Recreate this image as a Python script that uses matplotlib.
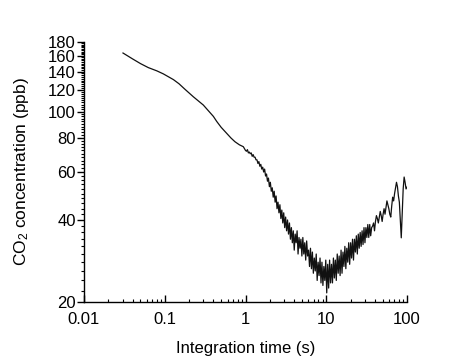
import numpy as np
import matplotlib
matplotlib.use("Agg")
import matplotlib.pyplot as plt
from matplotlib.ticker import FixedLocator, MultipleLocator, NullFormatter, LogLocator, FixedFormatter, FuncFormatter

# --- data -------------------------------------------------------------
# smooth part (short integration times)
tau_a = [0.0304, 0.04, 0.05, 0.0625, 0.08, 0.096, 0.128, 0.15, 0.178, 0.226,
         0.30, 0.40, 0.44, 0.50, 0.585, 0.66, 0.74, 0.84, 0.94]
conc_a = [164, 156, 150, 145, 141, 137.5, 131, 126.5, 120.7, 113.3,
          105.7, 96, 92, 87.5, 83.2, 80, 77.5, 75.5, 74.3]

# noisy part, 1 s .. 100 s (log-spaced samples)
conc_b = [
    72, 71.5, 72.5, 70.5, 71, 70, 70.5, 68.5, 69.5, 68,
    68, 66.5, 66.5, 64.5, 65.5, 63, 64, 61.5, 62.5, 60,
    61.5, 58, 59, 55.5, 57, 53, 55, 51, 52.5, 48.5,
    51, 46.5, 49, 44, 46.5, 42.5, 45.5, 40.5, 43.5, 39,
    42.5, 37.5, 41, 36.5, 40, 35.5, 39, 34, 37.5, 33,
    36.5, 31, 35.5, 33, 36.5, 30, 34.5, 31.5, 34, 29.5,
    34.5, 30, 33, 28.5, 33.5, 29.5, 31, 27, 31.5, 26.5,
    30.5, 25.5, 29, 26, 30, 24, 28, 25, 29, 23.5,
    28, 23, 27, 24, 28.5, 21.6, 27.5, 22.5, 28.5, 23.5,
    27.5, 23.5, 29, 24.5, 28.5, 24, 30, 25.5, 29.5, 25,
    31, 25.5, 30.5, 27, 32, 26.5, 31.5, 28, 33, 27.5,
    33, 29, 34, 28.5, 34, 30.5, 35, 30, 35.5, 31.5,
    36, 32, 36.5, 32.5, 37.5, 33, 37.5, 34.5, 38.5, 34.5,
    38.5, 35, 37.5, 38, 39, 36.5, 39.5, 41.5, 40.5, 39,
    41, 43, 41.5, 39.5, 42, 44, 42, 44.5, 47, 45.5,
    44, 42, 41, 45, 48.5, 47, 50, 52.5, 55, 53,
    49, 46.5, 40, 34.4, 42, 52, 57.5, 55, 52, 52.8,
]
tau_b = np.geomspace(1.0, 100.0, len(conc_b))

tau = np.concatenate([tau_a, tau_b])
conc = np.concatenate([conc_a, conc_b])

y_ticks = [20, 40, 60, 80, 100, 120, 140, 160, 180]
x_ticks = [0.01, 0.1, 1, 10, 100]
x_tick_labels = ["0.01", "0.1", "1", "10", "100"]

# --- figure -----------------------------------------------------------
plt.rcParams['font.family'] = ['Liberation Sans', 'DejaVu Sans']
plt.rcParams['mathtext.fontset'] = 'custom'
plt.rcParams['mathtext.rm'] = 'Liberation Sans'
plt.rcParams['mathtext.it'] = 'Liberation Sans:italic'
plt.rcParams['mathtext.bf'] = 'Liberation Sans:bold'

fig = plt.figure(figsize=(4.74, 3.64), dpi=100)
ax = fig.add_axes([84/474, 1-302/364, (407-84)/474, (302-42)/364])

ax.plot(tau, conc, color='#111111', lw=0.9)

ax.set_xscale('log')
ax.set_yscale('log')
ax.set_xlim(0.01, 100)
ax.set_ylim(20, 180)

ax.xaxis.set_major_locator(FixedLocator(x_ticks))
ax.xaxis.set_major_formatter(FixedFormatter(x_tick_labels))
ax.xaxis.set_minor_locator(LogLocator(base=10, subs=np.arange(2, 10)))
ax.xaxis.set_minor_formatter(NullFormatter())

ax.yaxis.set_major_locator(FixedLocator(y_ticks))
ax.yaxis.set_major_formatter(FuncFormatter(lambda v, p: f"{v:g}"))
ax.yaxis.set_minor_locator(MultipleLocator(2))
ax.yaxis.set_minor_formatter(NullFormatter())

ax.spines['top'].set_visible(False)
ax.spines['right'].set_visible(False)
for s in ('left', 'bottom'):
    ax.spines[s].set_linewidth(1.0)

ax.tick_params(axis='x', which='major', direction='in', length=5, width=1.0, labelsize=12, pad=7)
ax.tick_params(axis='x', which='minor', direction='in', length=2.5, width=0.8)
ax.tick_params(axis='y', which='major', direction='out', length=5, width=1.0, labelsize=12, pad=1)
ax.tick_params(axis='y', which='minor', direction='out', length=2.5, width=0.8)

ax.set_xlabel("Integration time (s)", fontsize=12, labelpad=10)
ax.set_ylabel("CO$_2$ concentration (ppb)", fontsize=12.5, labelpad=12)

fig.savefig("out.png", dpi=100)
